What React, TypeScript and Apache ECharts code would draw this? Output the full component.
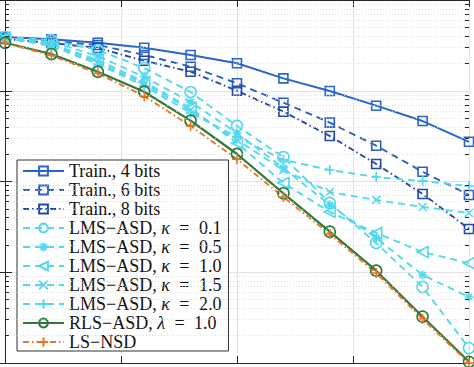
import React, { useEffect, useRef } from 'react';
import * as echarts from 'echarts';

const iterations = [0, 2, 4, 6, 8, 10, 12, 14, 16, 18, 20];
const train4 = [0.391, 0.369, 0.338, 0.298, 0.248, 0.201, 0.137, 0.0994, 0.0684, 0.0464, 0.0274];
const train6 = [0.381, 0.353, 0.319, 0.248, 0.184, 0.121, 0.0738, 0.0445, 0.0248, 0.0128, 0.0071];
const train8 = [0.372, 0.336, 0.296, 0.214, 0.162, 0.1, 0.0588, 0.0317, 0.0156, 0.00729, 0.003];
const lms01 = [0.391, 0.362, 0.281, 0.178, 0.0969, 0.0409, 0.0186, 0.0058, 0.0021, 0.000688, 0.000146];
const lms05 = [0.381, 0.344, 0.2415, 0.1417, 0.0752, 0.0342, 0.0141, 0.00551, 0.00238, 0.000933, 0.000534];
const lms10 = [0.381, 0.3275, 0.218, 0.125, 0.0645, 0.0265, 0.00963, 0.00461, 0.00271, 0.00167, 0.00126];
const lms15 = [0.381, 0.319, 0.207, 0.119, 0.0614, 0.0287, 0.0134, 0.00766, 0.00625, 0.00524, 0.0045];
const lms20 = [0.381, 0.311, 0.197, 0.113, 0.0569, 0.031, 0.0173, 0.0134, 0.0112, 0.0101, 0.00892];
const rls = [0.338, 0.254, 0.162, 0.0976, 0.0468, 0.0201, 0.00741, 0.0028, 0.00104, 0.000324, 0.000103];
const lsnsd = [0.336, 0.245, 0.155, 0.0875, 0.0409, 0.0176, 0.00675, 0.00264, 0.00098, 0.000305, 0.0001];

const seriesNames = [
  'Train., 4 bits',
  'Train., 6 bits',
  'Train., 8 bits',
  'LMS−ASD, κ = 0.1',
  'LMS−ASD, κ = 0.5',
  'LMS−ASD, κ = 1.0',
  'LMS−ASD, κ = 1.5',
  'LMS−ASD, κ = 2.0',
  'RLS−ASD, λ = 1.0',
  'LS−NSD',
];

const yMin = 1e-4;
const yMax = 1;
const xMin = 0;
const xMax = 20;
const xInterval = 5;

const decades = [-4, -3, -2, -1];
const mantissas = [2, 3, 4, 5, 6, 7, 8, 9];
const minorTicks: number[] = [];
decades.forEach((d) => mantissas.forEach((m) => minorTicks.push(m * Math.pow(10, d))));

const BLUE4 = '#2a64c8';
const BLUE6 = '#2a5fc2';
const BLUE8 = '#2448aa';
const CYAN = '#52d8ef';
const GREEN = '#2d7a3c';
const ORANGE = '#ec7424';

const PLUS = 'path://M5,0L5,10M0,5L10,5';
const CROSS = 'path://M0,0L10,10M0,10L10,0';
const STAR = 'path://M5,0L5,10M0,5L10,5M1.5,1.5L8.5,8.5M1.5,8.5L8.5,1.5';

const FONT = '"Liberation Serif", "DejaVu Serif", serif';
const FS = 18;

function pairs(ys: number[]) {
  return iterations.map((x, i) => [x, ys[i]]);
}

function mkSeries(
  name: string,
  ys: number[],
  color: string,
  lineType: any,
  symbol: string,
  symbolSize: number,
  extra: any = {}
) {
  return {
    type: 'line',
    name,
    data: pairs(ys),
    color,
    symbol,
    symbolSize,
    showAllSymbol: true,
    z: 3,
    lineStyle: { color, width: 1.9, type: lineType },
    itemStyle: { color: 'rgba(0,0,0,0)', borderColor: color, borderWidth: 1.6 },
    ...extra,
  };
}

export default function App() {
  const ref = useRef<HTMLDivElement>(null);
  useEffect(() => {
    if (!ref.current) return;
    const chart = echarts.init(ref.current, undefined, { renderer: 'svg' });
    const dash = [7, 5];
    const dashDot = [6, 3, 1.5, 3];

    const gridLines = minorTicks.map((v) => [{ coord: [xMin, v] }, { coord: [xMax, v] }]);
    const leftTicks = minorTicks.map((v) => [{ coord: [xMin, v] }, { coord: [xMin + 0.17, v] }]);
    const rightTicks = minorTicks.map((v) => [{ coord: [xMax - 0.17, v] }, { coord: [xMax, v] }]);

    const axisCommonY = {
      type: 'log',
      logBase: 10,
      min: yMin,
      max: yMax,
      axisLine: { show: true, lineStyle: { color: '#262626', width: 1 } },
      axisTick: { show: true, inside: true, length: 7, lineStyle: { color: '#262626' } },
      axisLabel: { show: false },
    };
    const axisCommonX = {
      type: 'value',
      min: xMin,
      max: xMax,
      interval: xInterval,
      axisLine: { show: true, onZero: false, lineStyle: { color: '#262626', width: 1 } },
      axisTick: { show: true, inside: true, length: 7, lineStyle: { color: '#262626' } },
      axisLabel: { show: false },
    };

    chart.setOption({
      animation: false,
      backgroundColor: '#ffffff',
      grid: { left: 5, right: 5, top: 0, bottom: 4 },
      xAxis: [
        { ...axisCommonX, position: 'bottom', splitLine: { show: true, lineStyle: { color: '#e2e2e2', width: 1 } } },
        { ...axisCommonX, position: 'top', splitLine: { show: false } },
      ],
      yAxis: [
        { ...axisCommonY, position: 'left', splitLine: { show: true, lineStyle: { color: '#e2e2e2', width: 1 } } },
        { ...axisCommonY, position: 'right', splitLine: { show: false } },
      ],
      legend: {
        orient: 'vertical',
        left: 17,
        top: 160,
        data: seriesNames,
        backgroundColor: '#ffffff',
        borderColor: '#333333',
        borderWidth: 1,
        borderRadius: 0,
        padding: [2, 7, 0, 5],
        itemWidth: 41,
        itemHeight: 11,
        itemGap: 1,
        selectedMode: false,
        textStyle: {
          fontFamily: FONT,
          fontSize: FS,
          color: '#111111',
          rich: {
            i: { fontFamily: FONT, fontSize: FS, fontStyle: 'italic', color: '#111111' },
            e: { fontFamily: FONT, fontSize: FS, color: '#111111', padding: [0, 5, 0, 5] },
          },
        },
        formatter: (name: string) => name.replace(/([κλ])/g, '{i|$1}').replace(' = ', ' {e|=} '),
      },
      series: [
        {
          type: 'line',
          name: 'grid',
          data: [],
          z: 1,
          silent: true,
          markLine: {
            silent: true,
            symbol: ['none', 'none'],
            label: { show: false },
            lineStyle: { color: '#d6d6d6', width: 0.8, type: [1, 2] },
            data: gridLines,
          },
        },
        {
          type: 'line',
          name: 'ticks',
          data: [],
          z: 4,
          silent: true,
          markLine: {
            silent: true,
            symbol: ['none', 'none'],
            label: { show: false },
            lineStyle: { color: '#262626', width: 1, type: 'solid' },
            data: [...leftTicks, ...rightTicks],
          },
        },
        mkSeries(seriesNames[0], train4, BLUE4, 'solid', 'rect', 9),
        mkSeries(seriesNames[1], train6, BLUE6, dash, 'rect', 9),
        mkSeries(seriesNames[2], train8, BLUE8, dashDot, 'rect', 9),
        mkSeries(seriesNames[3], lms01, CYAN, dash, 'circle', 11),
        mkSeries(seriesNames[4], lms05, CYAN, dash, STAR, 9),
        mkSeries(seriesNames[5], lms10, CYAN, dash, 'triangle', 11, { symbolRotate: 90 }),
        mkSeries(seriesNames[6], lms15, CYAN, dash, CROSS, 8),
        mkSeries(seriesNames[7], lms20, CYAN, dash, PLUS, 10),
        mkSeries(seriesNames[8], rls, GREEN, 'solid', 'circle', 11, { lineStyle: { color: GREEN, width: 2.2, type: 'solid' } }),
        mkSeries(seriesNames[9], lsnsd, ORANGE, dashDot, PLUS, 10),
      ],
    });
    return () => chart.dispose();
  }, []);
  return <div ref={ref} style={{ width: 474, height: 367, position: 'absolute', left: 0, top: 0 }} />;
}
